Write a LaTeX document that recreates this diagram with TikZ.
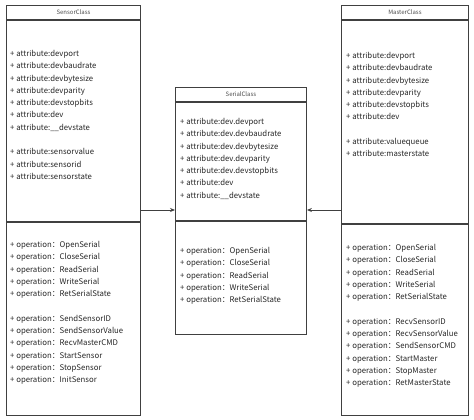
\documentclass[tikz,border=0pt]{standalone}
\usepackage{fontspec}
\setmainfont{Noto Sans CJK SC}
\usetikzlibrary{positioning,arrows.meta,calc}

\begin{document}
\begin{tikzpicture}[x=1pt,y=-1pt,>={Stealth[length=5pt,width=4pt]},
  sec/.style={draw=black!75,line width=0.9pt,anchor=north west,inner sep=0pt},
  hdr/.style={sec,minimum height=14pt,font=\fontsize{6}{7}\selectfont,text=black!70},
  txt/.style={anchor=north west,align=left,inner sep=0pt,text=black!85,font=\fontsize{7.8}{12.3}\selectfont}]
  \useasboundingbox (0,0) rectangle (474,420);
  % SensorClass
  \node[hdr,minimum width=134pt](sensorHead) at (6,5){SensorClass};
  \node[sec,minimum width=134pt,minimum height=201pt](sensorAttr) at (sensorHead.south west){};
  \node[sec,minimum width=134pt,minimum height=193pt](sensorOps) at (sensorAttr.south west){};
  \node[txt](sensorAttrTxt) at (10,50){+ attribute:devport\\+ attribute:devbaudrate\\+ attribute:devbytesize\\
    + attribute:devparity\\+ attribute:devstopbits\\+ attribute:dev\\+ attribute:\_\_devstate\\~\\
    + attribute:sensorvalue\\+ attribute:sensorid\\+ attribute:sensorstate};
  \node[txt](sensorOpsTxt) at (10,241){+ operation：OpenSerial\\+ operation：CloseSerial\\+ operation：ReadSerial\\
    + operation：WriteSerial\\+ operation：RetSerialState\\~\\+ operation：SendSensorID\\
    + operation：SendSensorValue\\+ operation：RecvMasterCMD\\+ operation：StartSensor\\
    + operation：StopSensor\\+ operation：InitSensor};
  % SerialClass
  \node[hdr,minimum width=131pt](serialHead) at (175,87){SerialClass};
  \node[sec,minimum width=131pt,minimum height=118pt](serialAttr) at (serialHead.south west){};
  \node[sec,minimum width=131pt,minimum height=113pt](serialOps) at (serialAttr.south west){};
  \node[txt](serialAttrTxt) at (180,118){+ attribute:dev.devport\\+ attribute:dev.devbaudrate\\
    + attribute:dev.devbytesize\\+ attribute:dev.devparity\\+ attribute:dev.devstopbits\\
    + attribute:dev\\+ attribute:\_\_devstate};
  \node[txt](serialOpsTxt) at (180,247){+ operation：OpenSerial\\+ operation：CloseSerial\\+ operation：ReadSerial\\
    + operation：WriteSerial\\+ operation：RetSerialState};
  % MasterClass
  \node[hdr,minimum width=127pt](masterHead) at (341,5){MasterClass};
  \node[sec,minimum width=127pt,minimum height=203pt](masterAttr) at (masterHead.south west){};
  \node[sec,minimum width=127pt,minimum height=191pt](masterOps) at (masterAttr.south west){};
  \node[txt](masterAttrTxt) at (346,52){+ attribute:devport\\+ attribute:devbaudrate\\+ attribute:devbytesize\\
    + attribute:devparity\\+ attribute:devstopbits\\+ attribute:dev\\~\\
    + attribute:valuequeue\\+ attribute:masterstate};
  \node[txt](masterOpsTxt) at (346,244){+ operation：OpenSerial\\+ operation：CloseSerial\\+ operation：ReadSerial\\
    + operation：WriteSerial\\+ operation：RetSerialState\\~\\+ operation：RecvSensorID\\
    + operation：RecvSensorValue\\+ operation：SendSensorCMD\\+ operation：StartMaster\\
    + operation：StopMaster\\+ operation：RetMasterState};
  % links
  \coordinate(linkY) at (0,210);
  \draw[->,draw=black!75,line width=0.9pt](sensorAttr.east|-linkY)--(serialAttr.west|-linkY);
  \draw[->,draw=black!75,line width=0.9pt](masterAttr.west|-linkY)--(serialAttr.east|-linkY);
\end{tikzpicture}
\end{document}
